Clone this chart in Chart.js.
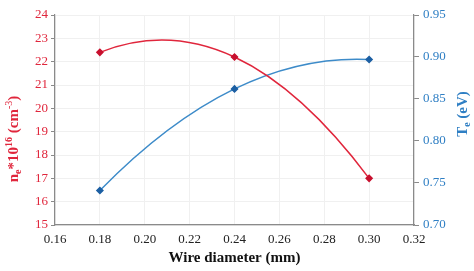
<!DOCTYPE html>
<html><head><meta charset="utf-8">
<script src="https://cdn.jsdelivr.net/npm/chart.js@4"></script>
<style>html,body{margin:0;padding:0;background:#fff}#wrap{width:474px;height:271px}</style>
</head><body><div id="wrap"><canvas id="c"></canvas></div>
<script>
const diameters = [0.18, 0.24, 0.30];
const neValues = [22.4, 22.2, 17.0];
const teValues = [0.741, 0.862, 0.897];
const xTicks = [0.16, 0.18, 0.20, 0.22, 0.24, 0.26, 0.28, 0.30, 0.32];
const leftTicks = [15, 16, 17, 18, 19, 20, 21, 22, 23, 24];
const rightTicks = [0.70, 0.75, 0.80, 0.85, 0.90, 0.95];

const RED = '#e0263c', RED_D = '#c8102e', BLUE = '#3d8bc9', BLUE_D = '#1c5fa3', BLUE_T = '#2f7fc4';
const serif = "'Liberation Serif', 'Times New Roman', Tinos, serif";

// rich text title: segments [text, kind('n'|'sub'|'sup'), bold]
function drawRich(ctx, segs, cx, cy, color, size) {
  const fontFor = (k, b) => (b ? 'bold ' : '') + (k === 'n' ? size : Math.round(size * 0.65)) + 'px ' + serif;
  let total = 0;
  segs.forEach(s => { ctx.font = fontFor(s[1], s[2]); total += ctx.measureText(s[0]).width; });
  let x = cx - total / 2;
  ctx.fillStyle = color;
  ctx.textBaseline = 'alphabetic';
  ctx.textAlign = 'left';
  segs.forEach(s => {
    ctx.font = fontFor(s[1], s[2]);
    const dy = s[1] === 'sub' ? size * 0.22 : s[1] === 'sup' ? -size * 0.38 : 0;
    ctx.fillText(s[0], x, cy + size * 0.33 + dy);
    x += ctx.measureText(s[0]).width;
  });
}

const titles = {
  id: 'titles',
  afterDraw(chart) {
    const ctx = chart.ctx;
    ctx.save();
    ctx.translate(13, 139);
    ctx.rotate(-Math.PI / 2);
    drawRich(ctx, [['n', 'n', true], ['e', 'sub', true], ['*10', 'n', true], ['16', 'sup', true], [' (cm', 'n', true], ['-3', 'sup', false], [')', 'n', true]], 0, 0, RED, 15);
    ctx.restore();
    ctx.save();
    ctx.translate(462, 114);
    ctx.rotate(-Math.PI / 2);
    drawRich(ctx, [['T', 'n', true], ['e', 'sub', true], [' (eV)', 'n', true]], 0, 0, BLUE_T, 15);
    ctx.restore();
  }
};

// make the smoothed line an exact parabola through the three points (pixel space)
const parabola = {
  id: 'parabola',
  beforeDatasetDraw(chart, args) {
    const meta = args.meta, line = meta.dataset, pts = meta.data;
    if (!line || pts.length !== 3) return;
    line.updateControlPoints(chart.chartArea, meta.indexAxis || 'x');
    const h = (pts[2].x - pts[0].x) / 2;
    const y0 = pts[0].y, y1 = pts[1].y, y2 = pts[2].y;
    const m = [(-3 * y0 + 4 * y1 - y2) / (2 * h), (y2 - y0) / (2 * h), (y0 - 4 * y1 + 3 * y2) / (2 * h)];
    pts.forEach((p, i) => {
      p.cp1x = p.x - h / 3; p.cp1y = p.y - m[i] * h / 3;
      p.cp2x = p.x + h / 3; p.cp2y = p.y + m[i] * h / 3;
    });
  }
};

function build() {
new Chart(document.getElementById('c'), {
  type: 'line',
  data: {
    datasets: [
      {
        label: 'ne', yAxisID: 'y',
        data: diameters.map((x, i) => ({x, y: neValues[i]})),
        borderColor: RED, backgroundColor: RED_D, pointBackgroundColor: RED_D, pointBorderColor: RED_D,
        borderWidth: 1.5, tension: 0.4, pointStyle: 'rectRot', pointRadius: 3
      },
      {
        label: 'Te', yAxisID: 'y1',
        data: diameters.map((x, i) => ({x, y: teValues[i]})),
        borderColor: BLUE, backgroundColor: BLUE_D, pointBackgroundColor: BLUE_D, pointBorderColor: BLUE_D,
        borderWidth: 1.5, tension: 0.4, pointStyle: 'rectRot', pointRadius: 3
      }
    ]
  },
  options: {
    responsive: true, maintainAspectRatio: false, animation: false,
    layout: {padding: {top: 15, right: 0, left: 0, bottom: 0}},
    plugins: {legend: {display: false}, tooltip: {enabled: false}},
    scales: {
      x: {
        type: 'linear', min: 0.16, max: 0.32,
        afterBuildTicks: s => { s.ticks = xTicks.map(v => ({value: v})); },
        ticks: {color: '#222', font: {family: serif, size: 13}, padding: 7, callback: v => v.toFixed(2), maxRotation: 0},
        grid: {color: '#f0f0f0', drawTicks: false},
        border: {color: '#8a8a8a', width: 1.2},
        title: {display: true, text: 'Wire diameter (mm)', color: '#111', font: {family: serif, size: 15, weight: 'bold'}, padding: {top: 3}},
        afterFit: s => { s.height = 46; }
      },
      y: {
        position: 'left', min: 15, max: 24,
        afterBuildTicks: s => { s.ticks = leftTicks.map(v => ({value: v})); },
        ticks: {color: RED, font: {family: serif, size: 13}, padding: 3},
        grid: {color: '#f0f0f0', tickLength: 4, tickColor: '#8a8a8a'},
        border: {color: '#8a8a8a', width: 1.2},
        afterFit: s => { s.width = 55; }
      },
      y1: {
        position: 'right', min: 0.70, max: 0.95,
        afterBuildTicks: s => { s.ticks = rightTicks.map(v => ({value: v})); },
        ticks: {color: BLUE_T, font: {family: serif, size: 13}, padding: 4, callback: v => v.toFixed(2)},
        grid: {display: true, drawOnChartArea: false, tickLength: 5, tickColor: '#8a8a8a'},
        border: {color: '#8a8a8a', width: 1.2},
        afterFit: s => { s.width = 60; }
      }
    }
  },
  plugins: [parabola, titles]
});
}
if (document.fonts && document.fonts.load) {
  Promise.all([document.fonts.load("13px 'Liberation Serif'"), document.fonts.load("bold 15px 'Liberation Serif'")]).then(build, build);
} else build();
</script></body></html>
